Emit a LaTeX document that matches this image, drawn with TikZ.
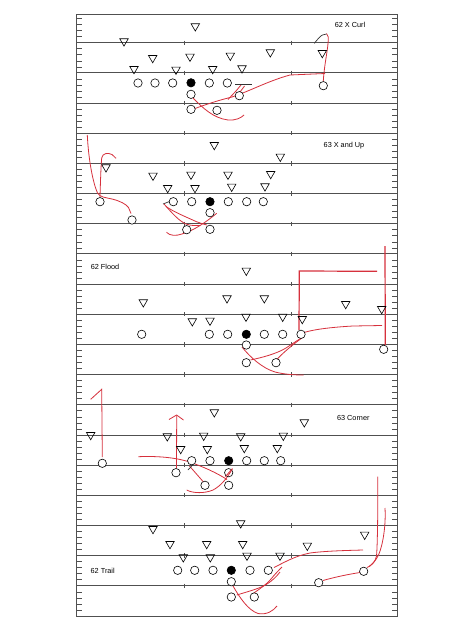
\documentclass[tikz,border=0pt]{standalone}
\usepackage{fontspec}
\setmainfont{Liberation Sans}
\usetikzlibrary{shapes.geometric}
\definecolor{fieldline}{RGB}{80,80,80}
\definecolor{routered}{RGB}{214,48,60}
\tikzset{
  offp/.style={circle,draw=black,line width=0.6pt,fill=white,inner sep=0pt,minimum size=8.4pt},
  ctrp/.style={offp,fill=black},
  defp/.style={regular polygon,regular polygon sides=3,shape border rotate=180,draw=black,line width=0.6pt,inner sep=0pt,minimum size=9.8pt,yshift=1.1pt},
  fline/.style={draw=fieldline,line width=0.8pt},
  route/.style={draw=routered,line width=0.8pt},
  sroute/.style={draw=routered,line width=1.2pt},
  blk/.style={draw=black!80,line width=0.7pt},
  lbl/.style={font=\fontsize{7.3}{8}\selectfont,inner sep=0pt}
}
\begin{document}
\begin{tikzpicture}[x=1pt,y=-1pt]
\useasboundingbox[fill=white] (0,0) rectangle (474,632);
% field
\draw[fline] (76.5,14) rectangle (397,616);
\foreach \k in {0,...,18}{
  \draw[fline] (76.5,42.7+30.17*\k) -- (397,42.7+30.17*\k);
  \draw[fline] (184,40.5+30.17*\k) -- (184,44.9+30.17*\k);
  \draw[fline] (291,40.5+30.17*\k) -- (291,44.9+30.17*\k);
}
\foreach \k in {-1,...,18}{
  \foreach \j in {1,...,4}{
    \draw[fline,line width=0.6pt] (76.5,42.7+30.17*\k+6.034*\j) -- (81.5,42.7+30.17*\k+6.034*\j);
    \draw[fline,line width=0.6pt] (392,42.7+30.17*\k+6.034*\j) -- (397,42.7+30.17*\k+6.034*\j);
  }
}

% ================= Play 1: 62 X Curl =================
\node[lbl] (l1) at (350,25) {62 X Curl};
\draw[route] (323.3,81) .. controls (324.5,62) and (328.5,48) .. (328.3,37) .. controls (328.2,35) .. (326.5,33.5);
\draw[blk] (314.3,43.3) .. controls (318,39) and (320,36) .. (322.5,35) -- (326.5,34);
\draw[route] (195,108.5) .. controls (210,103) and (220,100) .. (232,97) .. controls (250,91) and (268,81) .. (290,75) -- (325,73.5);
\draw[route] (228,99.5) -- (236,91) -- (241,85);
\draw[route] (236,97.5) -- (244.5,86);
\draw[route] (193,98) .. controls (203,108) and (213,118) .. (228,120) .. controls (236,120.5) and (241,118) .. (244,115);
\draw[blk] (235,84.6) -- (252,84.6);
\foreach \n/\x/\y in {a/195.3/27.3, b/124/42.3, c/152.7/59, d/190/57.7, e/230.3/56.7, f/270.3/53.3, g/322.3/54, h/134/70, i/176/70.7, j/212.7/70, k/242/69.3}
  \node[defp] (d1\n) at (\x,\y) {};
\foreach \n/\x/\y in {a/138/83, b/155/83, c/172.7/83, e/209.3/83, f/227.3/83, g/239.3/95.7, h/323.3/85.7, i/191/94.3, j/191/109.3, k/217/110.3}
  \node[offp] (o1\n) at (\x,\y) {};
\node[ctrp] (c1) at (191,82.8) {};

% ================= Play 2: 63 X and Up =================
\node[lbl] (l2) at (344,145.7) {63 X and Up};
\draw[route] (87.3,135) .. controls (88.5,160) and (93,183) .. (97.5,193) .. controls (100,197.5) and (106,197.5) .. (112,199) .. controls (120,201) and (126,204) .. (128.5,207.5) .. controls (130.5,210) .. (131,213.5);
\draw[route] (100,197) .. controls (100.5,180) and (101,165) .. (101.7,158) .. controls (102.5,153) and (108,152.5) .. (112,154.5) .. controls (114,155.5) .. (116,158.3);
\draw[blk] (163,204) -- (169.5,201.5);
\draw[route] (164,204) .. controls (172,213) and (179,221) .. (186,224) .. controls (191,225.5) .. (200,225.5);
\draw[route] (166,206.5) .. controls (174,212) and (184,216) .. (196,221.5) .. controls (200,223) .. (206.7,225);
\draw[route] (166.5,232.3) .. controls (170,236) and (176,236) .. (182,234) .. controls (195,230) and (206,222) .. (216.7,213.3);
\foreach \n/\x/\y in {a/214.3/146, b/280.3/157.7, c/106/168.3, d/153/176.7, e/191/175.7, f/228/175.7, g/270.7/175, h/167.7/189, i/195/189, j/231.7/187.7, k/265/187.3}
  \node[defp] (d2\n) at (\x,\y) {};
\foreach \n/\x/\y in {a/100/201.7, b/173.3/201.7, c/191.7/201.7, e/228.3/201.7, f/246.7/201.7, g/263.3/201.7, h/132/220, i/210/212.7, j/186.7/229.7, k/210/229.3}
  \node[offp] (o2\n) at (\x,\y) {};
\node[ctrp] (c2) at (210,201.7) {};

% ================= Play 3: 62 Flood =================
\node[lbl] (l3) at (105,266.7) {62 Flood};
\draw[sroute] (299,330) -- (299.3,271) -- (377,271.3);
\draw[sroute] (385,246) -- (385.3,345);
\draw[route] (304,332.5) .. controls (315,329) and (335,327) .. (353,326) -- (382,325.5);
\draw[route] (242,347) .. controls (250,357) and (262,368) .. (275,372) .. controls (285,374.5) and (295,375) .. (303.5,375);
\draw[route] (250.5,360) .. controls (262,357.5) and (276,354) .. (286,348) .. controls (292,344) and (298,340) .. (302,337.5);
\draw[route] (276.7,359.5) .. controls (283,353) and (292,345) .. (303.3,337);
\foreach \n/\x/\y in {a/246.3/271.7, b/143.3/303.3, c/227/299.3, d/264.3/299.3, e/345.7/305, f/381.7/310, g/192.3/322.3, h/210/321.7, i/246/317.7, j/282.7/317.7, k/302.3/320}
  \node[defp] (d3\n) at (\x,\y) {};
\foreach \n/\x/\y in {a/141.7/334.3, b/209.3/334.3, c/227.7/334.3, e/264.3/334.3, f/282.7/334.3, g/301/334.3, h/246.3/345, i/383.7/349.3, j/246.3/362.7, k/276/362.7}
  \node[offp] (o3\n) at (\x,\y) {};
\node[ctrp] (c3) at (246.3,334.3) {};

% ================= Play 4: 63 Corner =================
\node[lbl] (l4) at (353.3,417.7) {63 Corner};
\draw[route] (90.7,399.3) -- (101.7,389.3) -- (102.3,457);
\draw[route] (176.5,468) -- (176.7,415.5);
\draw[route] (169,419.5) -- (176.6,415) -- (183.5,420);
\draw[route] (138.3,456.7) .. controls (155,456) and (173,457) .. (188,461.5) .. controls (203,466.5) and (217,473) .. (227,479.5);
\draw[route] (189.5,466) -- (203.5,482);
\draw[blk] (188,470) -- (193.5,464);
\draw[route] (186.7,490) .. controls (193,493.5) and (205,493.5) .. (213,490) .. controls (221,486) and (228,477) .. (232.5,468.5);
\foreach \n/\x/\y in {a/214.3/413.3, b/304.3/423.3, c/90.7/436, d/167.3/437.3, e/203.7/436.7, f/240.7/437.3, g/283.3/436.7, h/180.7/450, i/207.3/450, j/244.3/449, k/277.3/449}
  \node[defp] (d4\n) at (\x,\y) {};
\foreach \n/\x/\y in {a/102.3/463.3, b/191.7/460.7, c/210/460.7, e/246.7/460.7, f/264.3/460.7, g/280.7/460.7, h/176/472.7, j/205/485.3, k/228.7/485.3}
  \node[offp] (o4\n) at (\x,\y) {};
\node[offp,fill=none] (o4i) at (228.7,472.7) {};
\draw[route] (225.5,476.5) -- (232,469);
\node[ctrp] (c4) at (228.7,460.7) {};

% ================= Play 5: 62 Trail =================
\node[lbl] (l5) at (102.7,570.7) {62 Trail};
\draw[route] (377.7,476.5) .. controls (378,510) and (377.5,545) .. (376.5,556) .. controls (375.5,562) and (371,566) .. (367,567.5);
\draw[route] (385,508) .. controls (386,525) and (383,545) .. (378.5,555) .. controls (375.5,561) and (372.5,564) .. (369,566.5);
\draw[route] (323,580.5) .. controls (335,577) and (350,574) .. (360,572.5);
\draw[route] (274,567.5) .. controls (285,562) and (295,556) .. (310,553) .. controls (325,551) and (345,550.5) .. (363,550);
\draw[route] (251,595) .. controls (258,590) and (266,585) .. (271,579) .. controls (276,573) and (279,570) .. (282,567);
\draw[route] (236.7,595) .. controls (250,591) and (261,588) .. (267,584) .. controls (272,581) and (277,576) .. (280,572);
\draw[route] (233,586) .. controls (240,598) and (248,610) .. (258,613.5) .. controls (267,615) and (273,611) .. (277,606);
\foreach \n/\x/\y in {a/240.7/524.3, b/153/530, c/170/545, d/206.7/545, e/242.7/545, f/307.3/546.7, g/364.7/535.7, h/183.3/558.3, i/210.3/558.3, j/247/556.7, k/280/556.7}
  \node[defp] (d5\n) at (\x,\y) {};
\foreach \n/\x/\y in {a/177.7/570.3, b/194.7/570.3, c/213/570.3, e/250/570.3, f/268.3/570.3, g/231.3/581.7, h/318.7/582.7, i/363.7/571.3, j/231.3/597, k/254.3/597}
  \node[offp] (o5\n) at (\x,\y) {};
\node[ctrp] (c5) at (231.3,570.3) {};
\end{tikzpicture}
\end{document}
